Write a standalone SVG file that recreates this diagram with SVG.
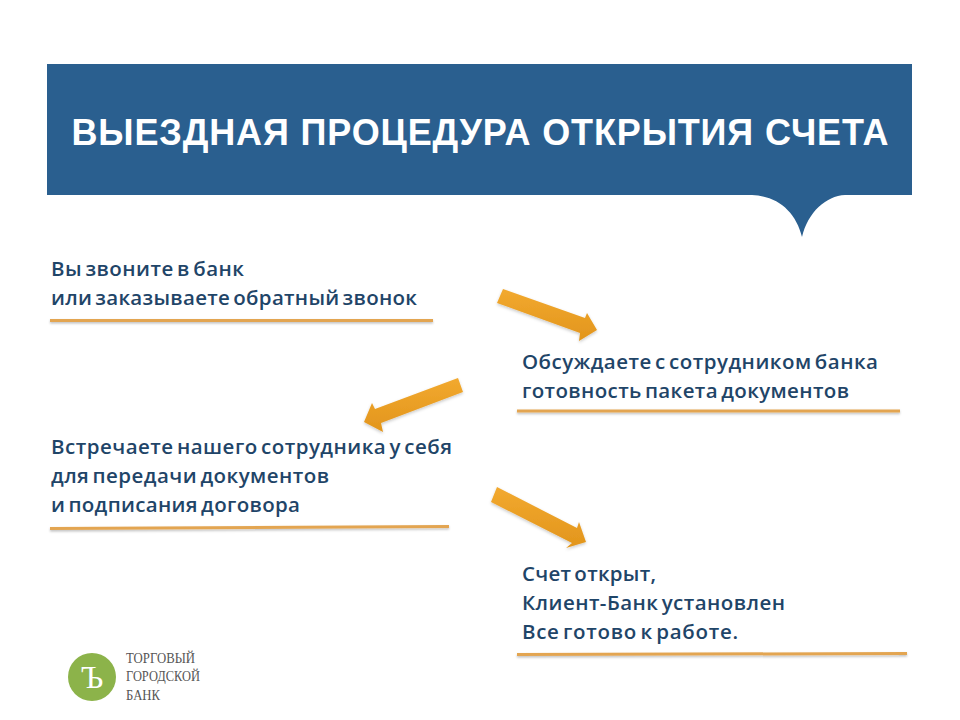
<svg xmlns="http://www.w3.org/2000/svg" width="960" height="720" viewBox="0 0 960 720">
<style>
.t{font-family:"Open Sans","Noto Sans",sans-serif;font-size:20.500px;font-weight:600;word-spacing:-2.500px;fill:#1f4568}
.r{stroke:#e3a551;stroke-width:3;fill:none;filter:url(#rs)}
.a{fill:url(#g);filter:url(#s)}
.l{font-family:"Liberation Serif","Noto Sans",serif;font-size:14px;fill:#555}
</style>
<defs>
<linearGradient id="g" x1="0" y1="0" x2="0" y2="1"><stop offset="0" stop-color="#f2a92f"/><stop offset="1" stop-color="#e2951c"/></linearGradient>
<filter id="s" x="-10%" y="-10%" width="120%" height="130%"><feDropShadow dx="0" dy="1.500" stdDeviation="1.500" flood-color="#000" flood-opacity=".22"/></filter>
<filter id="rs" filterUnits="userSpaceOnUse" x="30" y="300" width="900" height="370"><feDropShadow dx="0" dy="1.500" stdDeviation="1" flood-color="#000" flood-opacity=".25"/></filter>
</defs>
<rect width="960" height="720" fill="#fff"/>
<g id="header">
<path d="M47 64H912V195H845C826 196 808 212 802 237C796 212 778 196 752 195H47Z" fill="#2a5f8f"/>
<text x="480" y="145" text-anchor="middle" font-family="Liberation Sans,sans-serif" font-size="36" font-weight="700" fill="#fff" textLength="817">ВЫЕЗДНАЯ ПРОЦЕДУРА ОТКРЫТИЯ СЧЕТА</text>
</g>
<g id="step1">
<text class="t" x="51" y="276" textLength="193">Вы звоните в банк</text>
<text class="t" x="51" y="305" textLength="366">или заказываете обратный звонок</text>
</g>
<g id="step2">
<text class="t" x="522" y="369" textLength="356">Обсуждаете с сотрудником банка</text>
<text class="t" x="522" y="398" textLength="327">готовность пакета документов</text>
</g>
<g id="step3">
<text class="t" x="51" y="454" textLength="401">Встречаете нашего сотрудника у себя</text>
<text class="t" x="51" y="483" textLength="278">для передачи документов</text>
<text class="t" x="51" y="512" textLength="249">и подписания договора</text>
</g>
<g id="step4">
<text class="t" x="522" y="581" textLength="134">Счет открыт,</text>
<text class="t" x="522" y="610" textLength="263">Клиент-Банк установлен</text>
<text class="t" x="522" y="639" textLength="216">Все готово к работе.</text>
</g>
<g id="connectors">
<path class="r" d="M50 320.500H433"/>
<path class="r" d="M517 411H900"/>
<path class="r" d="M50 528.500L449 526.500"/>
<path class="r" d="M517 654.500L907 653.500"/>
<path class="a" d="M503 289L585 318L587 313L597 330L579 341L580 333L497 303Z"/>
<path class="a" d="M458 378L375 409L372 403L364 422L383 432L381 423L463 392Z"/>
<path class="a" d="M497 487L577 528L579 522L586 542L566 548L572 543L491 502Z"/>
</g>
<g id="logo">
<circle cx="92" cy="677" r="24" fill="#8cb34a"/>
<text x="92" y="688" text-anchor="middle" font-family="Liberation Serif,serif" font-size="32" fill="#fff">Ъ</text>
<text class="l" x="126" y="663" textLength="69" lengthAdjust="spacingAndGlyphs">ТОРГОВЫЙ</text>
<text class="l" x="126" y="681" textLength="74" lengthAdjust="spacingAndGlyphs">ГОРОДСКОЙ</text>
<text class="l" x="126" y="700" textLength="34" lengthAdjust="spacingAndGlyphs">БАНК</text>
</g>
</svg>
